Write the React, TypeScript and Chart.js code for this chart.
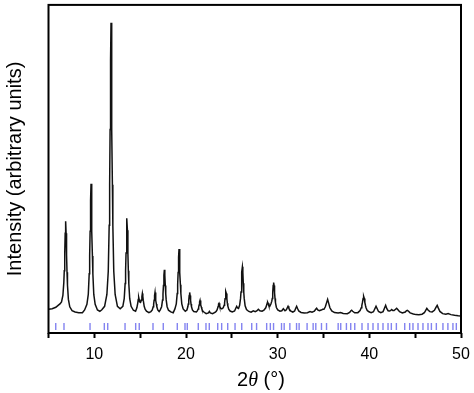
import React, { useEffect, useRef } from "react";
import { Chart, registerables } from "chart.js";

Chart.register(...registerables);

// Powder pattern: [2θ (°), intensity (arbitrary units)]
const pattern: [number, number][] = [
  [5.0, 24], [5.4, 24.5], [5.8, 26], [6.05, 28], [6.25, 29.5], [6.42, 31.5], [6.57, 38], [6.67, 51],
  [6.72, 63], [6.77, 80], [6.82, 101], [6.87, 113], [6.92, 101], [6.97, 79], [7.02, 61.5], [7.07, 48.6],
  [7.17, 34], [7.32, 26.5], [7.57, 22.7], [7.9, 21.3], [8.3, 20.5], [8.7, 20.5],
  [8.94, 23.3], [9.19, 29], [9.34, 39], [9.44, 60], [9.49, 78], [9.54, 103], [9.59, 134], [9.64, 151],
  [9.69, 134], [9.74, 103], [9.79, 78], [9.84, 60], [9.94, 39], [10.09, 29], [10.34, 23.3], [10.6, 22],
  [10.82, 23.5], [11.12, 27], [11.37, 39], [11.52, 62.5], [11.62, 109], [11.67, 150], [11.72, 206],
  [11.77, 276], [11.82, 314], [11.87, 276], [11.92, 206], [11.97, 150], [12.02, 109], [12.12, 62.5],
  [12.27, 39], [12.52, 27], [12.82, 24.5],
  [13.11, 27], [13.26, 34.7], [13.36, 50], [13.41, 63], [13.46, 81], [13.51, 104], [13.56, 116],
  [13.61, 104], [13.66, 81], [13.71, 63], [13.76, 50], [13.86, 34.7], [14.01, 27], [14.26, 23],
  [14.5, 22], [14.64, 25.5], [14.74, 30.5], [14.79, 34], [14.84, 36], [14.89, 34], [14.94, 31.5],
  [15.04, 31], [15.14, 33.5], [15.19, 37], [15.24, 40], [15.29, 37], [15.34, 33], [15.44, 27],
  [15.54, 24], [15.69, 22], [15.95, 20.5],
  [16.17, 21.7], [16.32, 23.3], [16.42, 26.5], [16.47, 29.3], [16.52, 33.1], [16.57, 37.9], [16.62, 41],
  [16.67, 37.9], [16.72, 33.1], [16.77, 29.3], [16.82, 26.5], [16.92, 23.3], [17.07, 21.7],
  [17.19, 23.4], [17.34, 26.6], [17.44, 33.5], [17.49, 39.6], [17.54, 48], [17.59, 58.3], [17.64, 64],
  [17.69, 58.3], [17.74, 48], [17.79, 39.6], [17.84, 33.5], [17.94, 26.6], [18.09, 23.1], [18.34, 21.3],
  [18.6, 20.5],
  [18.79, 24.4], [18.94, 29.5], [19.04, 39.9], [19.09, 48.9], [19.14, 61.1], [19.19, 76.6], [19.24, 85],
  [19.29, 76.6], [19.34, 61.1], [19.39, 48.9], [19.44, 39.9], [19.54, 29.5], [19.69, 24.4], [19.92, 22],
  [20.1, 23.3], [20.2, 26.5], [20.25, 29.3], [20.3, 33.1], [20.35, 37.9], [20.4, 41], [20.45, 37.9],
  [20.5, 33.1], [20.55, 29.3], [20.6, 26.5], [20.7, 23.3], [20.85, 21.7],
  [21.13, 21.2], [21.23, 22.3], [21.33, 24.3], [21.38, 26], [21.43, 28.4], [21.48, 31.4], [21.53, 33],
  [21.58, 31.4], [21.63, 28.4], [21.68, 26], [21.73, 24.3], [21.83, 22.3], [21.98, 21],
  [22.2, 19.5], [22.45, 20.3], [22.55, 21.8], [22.65, 20.3], [22.9, 19.5],
  [23.2, 21], [23.3, 22], [23.4, 23.6], [23.5, 26.8], [23.55, 29.3], [23.6, 30], [23.65, 28.8],
  [23.7, 27], [23.8, 25], [23.9, 24.5], [24.06, 25.5], [24.16, 28], [24.21, 30.5], [24.26, 34.6],
  [24.31, 39.9], [24.36, 42], [24.41, 39.9], [24.46, 34.6], [24.51, 30.2], [24.56, 27.4], [24.66, 24],
  [24.81, 22.2], [25.05, 21.3],
  [25.3, 22.3], [25.43, 25], [25.53, 27], [25.63, 25.3], [25.73, 24.8],
  [25.85, 28], [25.95, 35], [26.0, 41.5], [26.05, 50.3], [26.1, 61.5], [26.15, 67], [26.2, 61.5],
  [26.25, 50.3], [26.3, 41.5], [26.35, 35], [26.45, 27.5], [26.6, 23.8], [26.85, 21.8], [27.1, 21],
  [27.34, 22.5], [27.55, 21.5], [27.72, 22.3], [27.89, 24], [28.06, 22.4], [28.3, 22],
  [28.5, 23], [28.7, 25.5], [28.81, 28.5], [28.86, 30.3], [28.91, 31], [28.96, 30], [29.04, 27.5],
  [29.14, 27], [29.26, 29.3], [29.36, 32.2], [29.41, 35], [29.46, 40.7], [29.51, 48], [29.56, 51],
  [29.61, 48], [29.66, 40.7], [29.71, 35], [29.76, 30.7], [29.86, 25.8], [30.01, 23.3], [30.25, 22],
  [30.45, 22.5], [30.62, 24.5], [30.8, 22.5], [30.95, 23.5], [31.05, 25.5], [31.13, 27], [31.22, 25],
  [31.4, 22.3], [31.65, 21.2],
  [31.85, 22.3], [31.97, 25], [32.07, 27], [32.17, 24.8], [32.3, 22.3], [32.55, 20.8], [32.9, 20.2],
  [33.25, 20.5], [33.53, 21.8], [33.75, 21], [34.0, 22], [34.15, 24], [34.25, 25], [34.37, 23.3],
  [34.55, 22.5], [34.75, 23.2], [34.91, 24], [35.05, 24], [35.2, 26.5], [35.33, 30.5], [35.45, 34],
  [35.57, 30], [35.7, 25.5], [35.9, 22.3], [36.2, 20.7],
  [36.6, 20.2], [36.87, 20.8], [37.15, 19.8], [37.6, 19.6],
  [37.85, 20.8], [37.97, 22.3], [38.07, 23], [38.18, 22], [38.4, 20.5], [38.75, 20.6],
  [38.99, 22.8], [39.12, 25.5], [39.18, 27.8], [39.25, 30.9], [39.32, 34.9], [39.38, 37], [39.45, 34.9],
  [39.51, 30.9], [39.58, 27.8], [39.64, 25.5], [39.77, 22.8], [39.96, 21.5], [40.2, 20.6],
  [40.45, 21.5], [40.6, 24.5], [40.73, 27], [40.86, 24.5], [41.0, 21.8], [41.25, 20.6],
  [41.5, 21.6], [41.65, 25], [41.78, 28], [41.91, 24.6], [42.05, 22.5], [42.2, 22.2],
  [42.34, 23], [42.44, 23.8], [42.56, 22.8], [42.7, 22.7], [42.86, 24], [42.98, 25], [43.1, 23.8],
  [43.3, 21.5], [43.6, 20.2],
  [43.92, 21.2], [44.04, 22.5], [44.14, 23], [44.25, 22.2], [44.45, 20.4], [44.8, 19.2], [45.1, 18.6],
  [45.4, 18.5], [45.75, 19],
  [46.0, 20.5], [46.15, 23], [46.27, 25], [46.4, 23.3], [46.6, 21.6], [46.85, 21.3],
  [47.1, 23], [47.27, 26], [47.4, 28], [47.53, 25.2], [47.7, 21.8], [48.0, 19.6],
  [48.35, 19], [48.6, 19.6], [48.9, 18.6], [49.3, 18], [49.7, 17.5], [50.0, 17.2],
];

// Calculated reflection positions (2θ, °)
const reflections: number[] = [
  5.79, 6.69, 9.53, 11.09, 11.46, 13.35, 14.51, 14.9, 16.4, 17.52, 19.05, 19.89, 20.14, 21.34,
  22.18, 22.54, 23.46, 23.89, 24.55, 25.35, 26.08, 27.17, 27.7, 28.8, 29.2, 29.55, 30.42, 30.71,
  31.33, 32.06, 32.34, 33.21, 33.87, 34.16, 34.78, 35.33, 36.6, 36.88, 37.5, 37.97, 38.41, 39.2,
  39.86, 40.4, 40.95, 41.49, 42.04, 42.4, 42.95, 43.86, 44.4, 44.76, 45.31, 45.85, 46.4, 46.77,
  47.31, 48.03, 48.57, 49.12, 49.49,
];
const reflectionLevel = 6.5;

const xTicks = [10, 20, 30, 40, 50];
const xMin = 5;
const xMax = 50;
const yMax = 332;

const frameAndTitle = {
  id: "frameAndTitle",
  afterDatasetsDraw(chart: any) {
    const { ctx, chartArea } = chart;
    ctx.save();
    ctx.strokeStyle = "#000";
    ctx.lineWidth = 2;
    ctx.strokeRect(chartArea.left, chartArea.top, chartArea.right - chartArea.left, chartArea.bottom - chartArea.top);
    ctx.restore();
  },
  afterDraw(chart: any) {
    const { ctx } = chart;
    const parts = [
      { t: "2", f: "20px 'Liberation Sans', Arial, sans-serif" },
      { t: "θ", f: "italic 20px 'Liberation Serif', 'Times New Roman', serif" },
      { t: " (°)", f: "20px 'Liberation Sans', Arial, sans-serif" },
    ];
    ctx.save();
    ctx.fillStyle = "#000";
    ctx.textBaseline = "alphabetic";
    ctx.textAlign = "left";
    let total = 0;
    const widths = parts.map((p) => {
      ctx.font = p.f;
      const w = ctx.measureText(p.t).width;
      total += w;
      return w;
    });
    let x = 261 - total / 2;
    const y = 386;
    parts.forEach((p, i) => {
      ctx.font = p.f;
      ctx.fillText(p.t, x, y);
      x += widths[i];
    });
    ctx.restore();
  },
};

export default function App() {
  const ref = useRef<HTMLCanvasElement | null>(null);
  useEffect(() => {
    if (!ref.current) return;
    const chart = new Chart(ref.current, {
      type: "scatter",
      data: {
        datasets: [
          {
            label: "pattern",
            data: pattern.map(([x, y]) => ({ x, y })),
            showLine: true,
            borderColor: "#111",
            borderWidth: 1.5,
            pointRadius: 0,
            pointHoverRadius: 0,
            tension: 0,
          },
          {
            label: "reflections",
            data: reflections.map((x) => ({ x, y: reflectionLevel })),
            showLine: false,
            pointStyle: "line",
            pointRotation: 90,
            pointRadius: 3.5,
            pointHoverRadius: 3.5,
            pointBorderColor: "#8383f0",
            pointBorderWidth: 1.4,
            borderColor: "#8383f0",
          } as any,
        ],
      },
      options: {
        animation: false,
        responsive: false,
        events: [],
        layout: { padding: { left: 0, right: 13, top: 1, bottom: 0 } },
        plugins: { legend: { display: false }, tooltip: { enabled: false } },
        scales: {
          x: {
            type: "linear",
            min: xMin,
            max: xMax,
            afterFit: (s: any) => {
              s.height = 60;
              s.paddingLeft = 0;
              s.paddingRight = 0;
            },
            afterBuildTicks: (s: any) => {
              const t: any[] = [];
              for (const v of xTicks) { t.push({ value: v - 5 }, { value: v }); }
              s.ticks = t.filter((k) => k.value >= xMin && k.value <= xMax);
            },
            ticks: {
              autoSkip: false,
              maxRotation: 0,
              padding: 7,
              color: "#000",
              font: { family: "'Liberation Sans', Arial, sans-serif", size: 16 },
              callback: (v: any) => (xTicks.includes(Number(v)) ? String(v) : ""),
            },
            grid: { drawOnChartArea: false, drawTicks: true, tickLength: 5, tickWidth: 2, tickColor: "#000", color: "#000" },
            border: { display: false },
          },
          y: {
            type: "linear",
            min: 0,
            max: yMax,
            afterFit: (s: any) => { s.width = 48.5; },
            ticks: { display: false },
            grid: { display: false },
            border: { display: false },
            title: {
              display: true,
              text: "Intensity (arbitrary units)",
              color: "#000",
              padding: { top: 3, bottom: 0 },
              font: { family: "'Liberation Sans', Arial, sans-serif", size: 20 },
            },
          },
        },
      },
      plugins: [frameAndTitle],
    });
    return () => chart.destroy();
  }, []);
  return (
    <div style={{ position: "absolute", left: 0, top: 0, width: 474, height: 393, background: "#fff" }}>
      <canvas ref={ref} width={474} height={393} style={{ display: "block", width: 474, height: 393 }} />
    </div>
  );
}
